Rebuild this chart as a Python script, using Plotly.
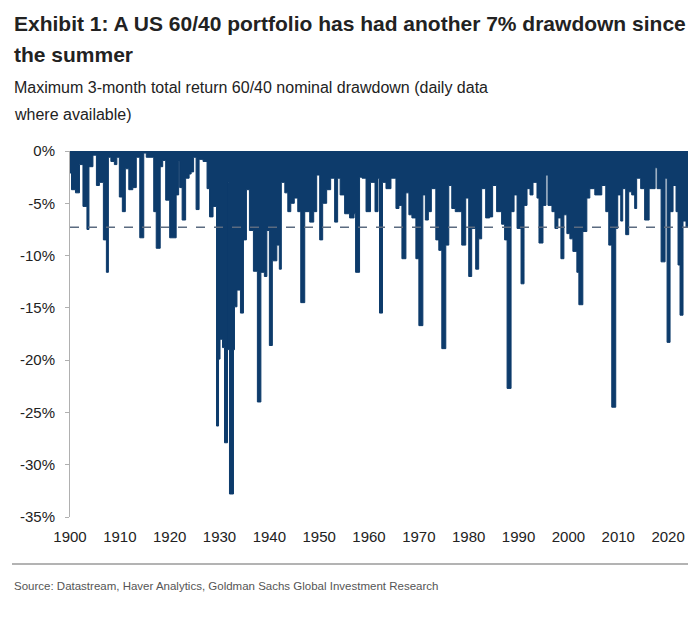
import plotly.graph_objects as go

# Drawdown series (start year of each step, value in %)
years = [
    1900.0, 1900.3, 1901.1, 1901.9, 1902.6, 1903.4, 1903.8, 1904.6, 1905.3, 1905.9,
    1906.7, 1907.3, 1907.7, 1908.2, 1908.9, 1909.4, 1909.9, 1910.5, 1911.1, 1911.8,
    1912.6, 1913.3, 1914.0, 1914.8, 1915.3, 1916.8, 1917.3, 1918.1, 1918.6, 1919.2,
    1920.0, 1921.3, 1921.8, 1922.0, 1922.5, 1923.2, 1923.9, 1924.3, 1924.8, 1925.3,
    1925.9, 1926.7, 1927.5, 1928.0, 1928.7, 1929.4, 1929.8, 1930.1, 1930.6, 1931.0,
    1931.6, 1931.7, 1931.8, 1932.0, 1932.8, 1933.0, 1933.5, 1934.2, 1934.8, 1935.4,
    1936.0, 1936.8, 1937.6, 1938.3, 1939.0, 1939.5, 1940.0, 1940.6, 1941.5, 1942.0,
    1942.4, 1943.1, 1943.7, 1944.3, 1945.0, 1945.7, 1946.3, 1947.1, 1948.1, 1948.9,
    1949.5, 1950.1, 1950.7, 1951.5, 1952.3, 1953.1, 1953.7, 1954.2, 1955.1, 1956.1,
    1957.0, 1957.3, 1958.1, 1958.6, 1959.4, 1960.3, 1961.2, 1961.8, 1962.1, 1962.7,
    1963.4, 1964.4, 1965.4, 1966.0, 1966.6, 1967.4, 1968.0, 1968.6, 1969.4, 1970.0,
    1970.8, 1971.3, 1971.9, 1972.5, 1973.4, 1974.0, 1974.6, 1975.4, 1976.0, 1976.6,
    1977.3, 1978.0, 1978.6, 1979.4, 1980.0, 1980.6, 1981.4, 1982.0, 1982.6, 1983.4,
    1984.2, 1984.8, 1985.6, 1986.6, 1987.2, 1987.7, 1988.5, 1989.1, 1989.7, 1990.5,
    1991.1, 1991.7, 1992.3, 1992.9, 1993.7, 1994.1, 1994.9, 1995.5, 1995.9, 1996.7,
    1997.3, 1997.9, 1998.5, 1999.1, 1999.7, 2000.3, 2000.9, 2001.7, 2002.1, 2002.9,
    2003.7, 2004.3, 2005.3, 2006.7, 2007.5, 2008.1, 2008.7, 2009.5, 2009.9, 2010.5,
    2010.9, 2011.5, 2012.1, 2012.7, 2013.3, 2013.7, 2014.5, 2015.3, 2016.2, 2016.6,
    2017.4, 2017.8, 2018.6, 2019.4, 2019.8, 2020.4, 2021.0, 2021.6, 2022.0, 2022.4,
    2023.0, 2023.6, 2024.0,
]
drawdown = [
    -2.1, -3.7, -4.0, -1.3, -5.3, -7.5, -1.5, -0.4, -3.3, -3.0,
    -8.5, -11.6, -0.6, -1.0, -1.3, -0.6, -4.4, -5.8, -1.7, -3.7,
    -3.5, -0.6, -8.3, -0.2, -0.6, -5.8, -9.3, -1.5, -0.9, -4.7,
    -8.3, -4.2, -1.0, -3.5, -6.6, -2.6, -2.2, -2.0, -0.6, -5.6,
    -0.8, -1.0, -3.6, -6.3, -5.3, -26.3, -19.9, -18.0, -18.8, -27.9,
    -19.0, -3.0, -19.0, -32.8, -19.0, -14.9, -13.3, -15.5, -8.5, -3.7,
    -7.6, -11.5, -24.0, -11.6, -12.0, -7.6, -18.6, -10.5, -9.0, -11.3,
    -3.0, -4.0, -5.8, -5.0, -4.5, -5.8, -14.5, -5.8, -6.8, -5.8,
    -2.3, -8.5, -5.0, -3.7, -2.6, -6.8, -2.6, -4.2, -6.0, -6.4,
    -6.0, -11.6, -2.5, -2.6, -5.8, -3.0, -5.8, -2.6, -15.5, -3.0,
    -3.6, -2.6, -5.5, -5.2, -10.3, -4.0, -6.1, -6.4, -10.3, -16.7,
    -4.2, -6.6, -5.8, -3.6, -8.5, -9.5, -18.9, -9.0, -3.3, -5.5,
    -5.8, -5.8, -9.0, -4.5, -12.0, -7.4, -11.3, -8.4, -3.6, -6.4,
    -6.3, -3.3, -5.8, -7.0, -8.5, -22.7, -5.8, -4.2, -7.4, -12.7,
    -5.2, -3.6, -4.2, -3.0, -4.5, -8.8, -5.2, -2.3, -5.2, -5.8,
    -7.4, -6.4, -10.3, -6.1, -7.9, -8.4, -9.6, -11.6, -14.7, -7.7,
    -4.5, -3.6, -4.2, -3.3, -5.8, -9.0, -24.5, -7.4, -4.2, -6.7,
    -3.6, -8.0, -3.9, -4.2, -5.5, -2.6, -3.6, -6.6, -3.6, -3.6,
    -1.6, -3.6, -10.6, -2.6, -18.3, -5.8, -3.3, -5.8, -10.9, -15.7,
    -6.7, -7.3, -7.3,
]
current_level = -7.3

y_ticks = [0, -5, -10, -15, -20, -25, -30, -35]
y_tick_labels = ["0%", "-5%", "-10%", "-15%", "-20%", "-25%", "-30%", "-35%"]
x_ticks = [1900, 1910, 1920, 1930, 1940, 1950, 1960, 1970, 1980, 1990, 2000, 2010, 2020]

title_line1 = "Exhibit 1: A US 60/40 portfolio has had another 7% drawdown since"
title_line2 = "the summer"
sub_line1 = "Maximum 3-month total return 60/40 nominal drawdown (daily data"
sub_line2 = "where available)"
source = "Source: Datastream, Haver Analytics, Goldman Sachs Global Investment Research"

NAVY = "#0d3b6b"

fig = go.Figure()
fig.add_trace(go.Scatter(
    x=years, y=drawdown, mode="lines", line_shape="hv",
    line=dict(color=NAVY, width=1), fill="tozeroy", fillcolor=NAVY,
    hoverinfo="skip", showlegend=False,
))
fig.add_trace(go.Scatter(
    x=[years[0], years[-1]], y=[current_level, current_level], mode="lines",
    line=dict(color="#5b6b80", width=1.5, dash="dash"), showlegend=False,
    hoverinfo="skip",
))

L, R, T, B = 70, 11, 151, 102
W, H = 700, 619
pw, ph = W - L - R, H - T - B

def px(x):
    return (x - L) / pw

def py(y):
    return (H - B - y) / ph

tfont = "Liberation Sans Narrow, Arial Narrow, Liberation Sans, Arial, sans-serif"
ann = []
ann.append(dict(text="<b>" + title_line1 + "</b>", x=px(12), y=py(24), xref="paper", yref="paper",
                xanchor="left", yanchor="middle", showarrow=False,
                font=dict(family=tfont, size=21, color="#222222")))
ann.append(dict(text="<b>" + title_line2 + "</b>", x=px(12), y=py(55), xref="paper", yref="paper",
                xanchor="left", yanchor="middle", showarrow=False,
                font=dict(family=tfont, size=21, color="#222222")))
ann.append(dict(text=sub_line1, x=px(12), y=py(88), xref="paper", yref="paper",
                xanchor="left", yanchor="middle", showarrow=False,
                font=dict(family=tfont, size=16, color="#222222")))
ann.append(dict(text=sub_line2, x=px(12), y=py(114), xref="paper", yref="paper",
                xanchor="left", yanchor="middle", showarrow=False,
                font=dict(family=tfont, size=16, color="#222222")))
ann.append(dict(text=source, x=px(12), y=py(586), xref="paper", yref="paper",
                xanchor="left", yanchor="middle", showarrow=False,
                font=dict(family=tfont, size=11.5, color="#555555")))

fig.update_layout(
    width=W, height=H,
    margin=dict(l=L, r=R, t=T, b=B, pad=0),
    paper_bgcolor="white", plot_bgcolor="white",
    annotations=ann,
    shapes=[dict(type="line", xref="paper", yref="paper", x0=px(12), x1=px(688),
                 y0=py(564), y1=py(564), line=dict(color="#9a9a9a", width=1.5))],
    font=dict(family="Liberation Sans, Arial, sans-serif", size=15, color="#333333"),
)
fig.update_xaxes(range=[1900, 2024.2], tickvals=x_ticks, showgrid=False, zeroline=False,
                 showline=False, ticks="", ticklabelstandoff=9,
                 tickfont=dict(size=15, color="#222222"))
fig.update_yaxes(range=[-35, 0], tickvals=y_ticks, ticktext=y_tick_labels, showgrid=False,
                 zeroline=False, showline=True, linecolor="#b0b0b0", linewidth=1,
                 ticks="outside", ticklen=4, tickcolor="#b0b0b0", ticklabelstandoff=7,
                 tickfont=dict(size=15, color="#222222"))

fig.write_html("out.html")
